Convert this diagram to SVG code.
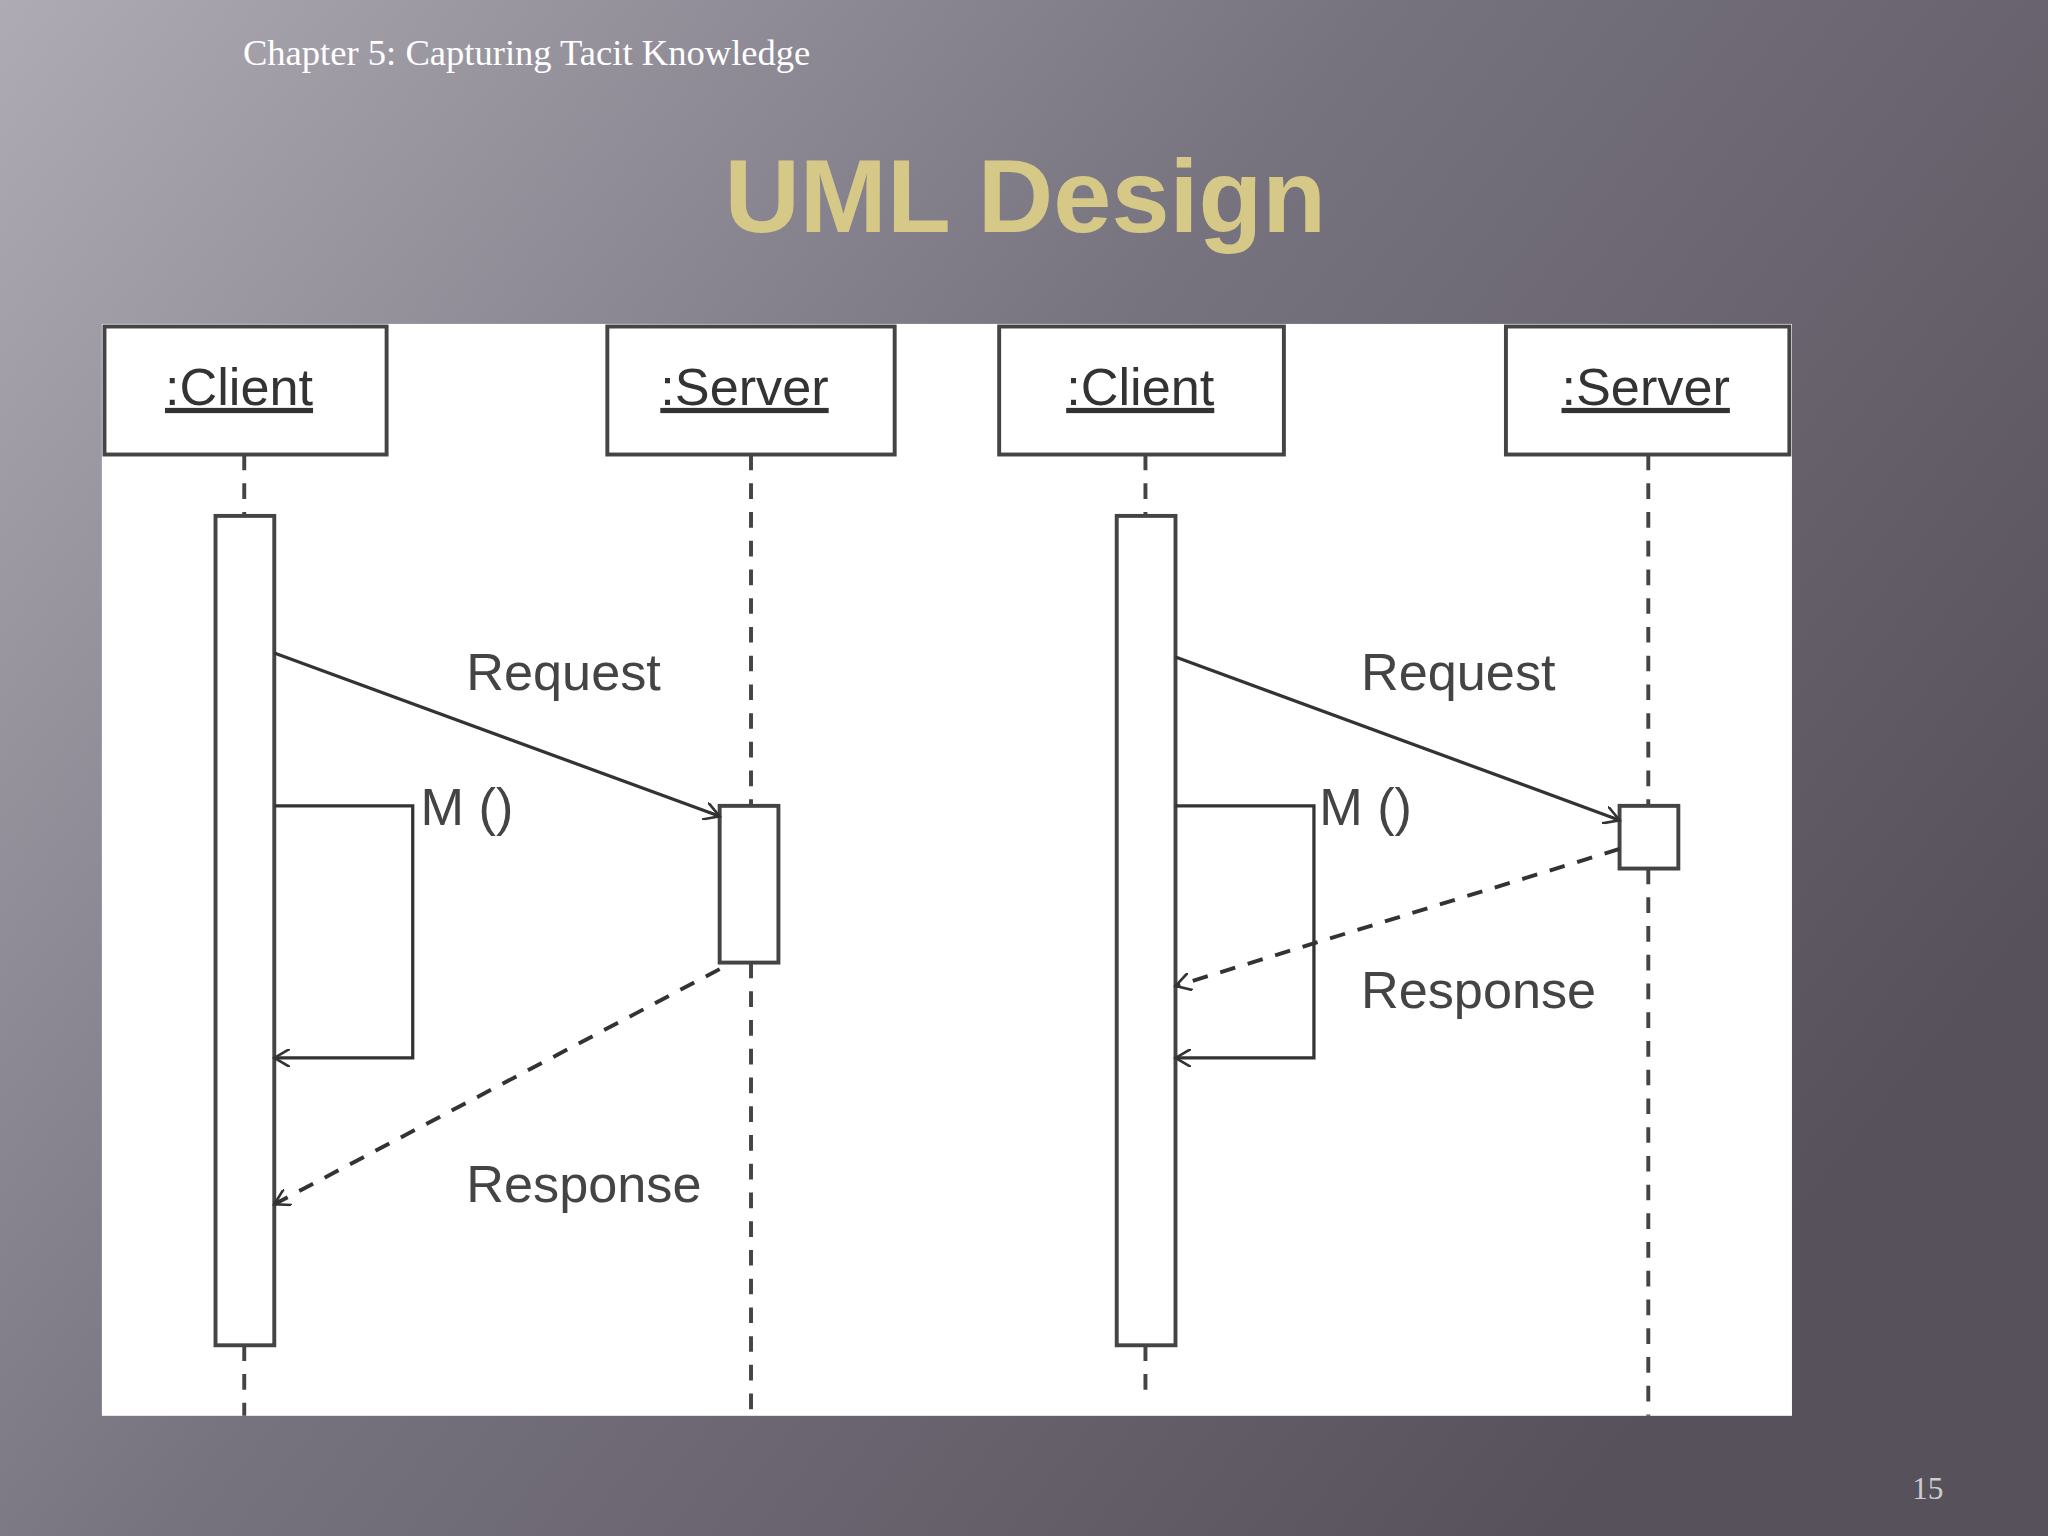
<svg xmlns="http://www.w3.org/2000/svg" width="2048" height="1536" viewBox="0 0 2048 1536">
<defs>
<linearGradient id="bg" x1="0" y1="0" x2="1" y2="0.6">
<stop offset="0" stop-color="#aeabb5"/><stop offset="0.5" stop-color="#77737e"/><stop offset="1" stop-color="#57515b"/>
</linearGradient>
<marker id="oa" markerWidth="14" markerHeight="14" refX="12" refY="7" orient="auto" markerUnits="userSpaceOnUse">
<path d="M0,0 L12,7 L0,14" fill="none" stroke="#333" stroke-width="2"/>
</marker>
<style>
.box{fill:#fff;stroke:#444;stroke-width:3}
.hd{font-family:"Liberation Sans",Arial,sans-serif;font-size:40px;fill:#333;text-decoration:underline;text-anchor:middle}
.lab{font-family:"Liberation Sans",Arial,sans-serif;font-size:40px;fill:#444}
.life{stroke:#444;stroke-width:3;stroke-dasharray:12,10;fill:none}
.msg{stroke:#333;stroke-width:2.5;fill:none}
.dmsg{stroke:#333;stroke-width:3;stroke-dasharray:12,10;fill:none}
</style>
</defs>
<rect width="2048" height="1536" fill="url(#bg)"/>
<g transform="scale(1.3061)">
<text x="186" y="50" font-family="Liberation Serif,serif" font-size="28" fill="#fff">Chapter 5:  Capturing Tacit Knowledge</text>
<text x="785" y="178" text-anchor="middle" font-family="Liberation Sans,Arial,sans-serif" font-weight="bold" font-size="80" fill="#d6c988">UML Design</text>
<text x="1476" y="1148" text-anchor="middle" font-family="Liberation Serif,serif" font-size="24" fill="#ccc">15</text>
<rect x="78" y="248" width="1294" height="836" fill="#fff"/>
<g id="client1"><rect class="box" x="80" y="250" width="216" height="98"/><text class="hd" x="183" y="310">:Client</text></g>
<g id="server1"><rect class="box" x="465" y="250" width="220" height="98"/><text class="hd" x="570" y="310">:Server</text></g>
<g id="client2"><rect class="box" x="765" y="250" width="218" height="98"/><text class="hd" x="873" y="310">:Client</text></g>
<g id="server2"><rect class="box" x="1153" y="250" width="217" height="98"/><text class="hd" x="1260" y="310">:Server</text></g>
<g id="connectors">
<path class="life" d="M187,348V395M187,1030V1084M575,348V617M575,737V1084M877,348V395M877,1030V1070M1262,348V617M1262,665V1084"/>
<rect class="box" x="165" y="395" width="45" height="635"/>
<rect class="box" x="551" y="617" width="45" height="120"/>
<rect class="box" x="855" y="395" width="45" height="635"/>
<rect class="box" x="1240" y="617" width="45" height="48"/>
<path class="msg" d="M210,500L551,625" marker-end="url(#oa)"/>
<path class="msg" d="M210,617H316V810H210" marker-end="url(#oa)"/>
<path class="dmsg" d="M551,742L210,922" marker-end="url(#oa)"/>
<path class="msg" d="M900,503L1240,628" marker-end="url(#oa)"/>
<path class="msg" d="M900,617H1006V810H900" marker-end="url(#oa)"/>
<path class="dmsg" d="M1240,650L900,755" marker-end="url(#oa)"/>
</g>
<text class="lab" x="357" y="528">Request</text>
<text class="lab" x="322" y="632">M ()</text>
<text class="lab" x="357" y="920">Response</text>
<text class="lab" x="1042" y="528">Request</text>
<text class="lab" x="1010" y="632">M ()</text>
<text class="lab" x="1042" y="772">Response</text>
</g>
</svg>
